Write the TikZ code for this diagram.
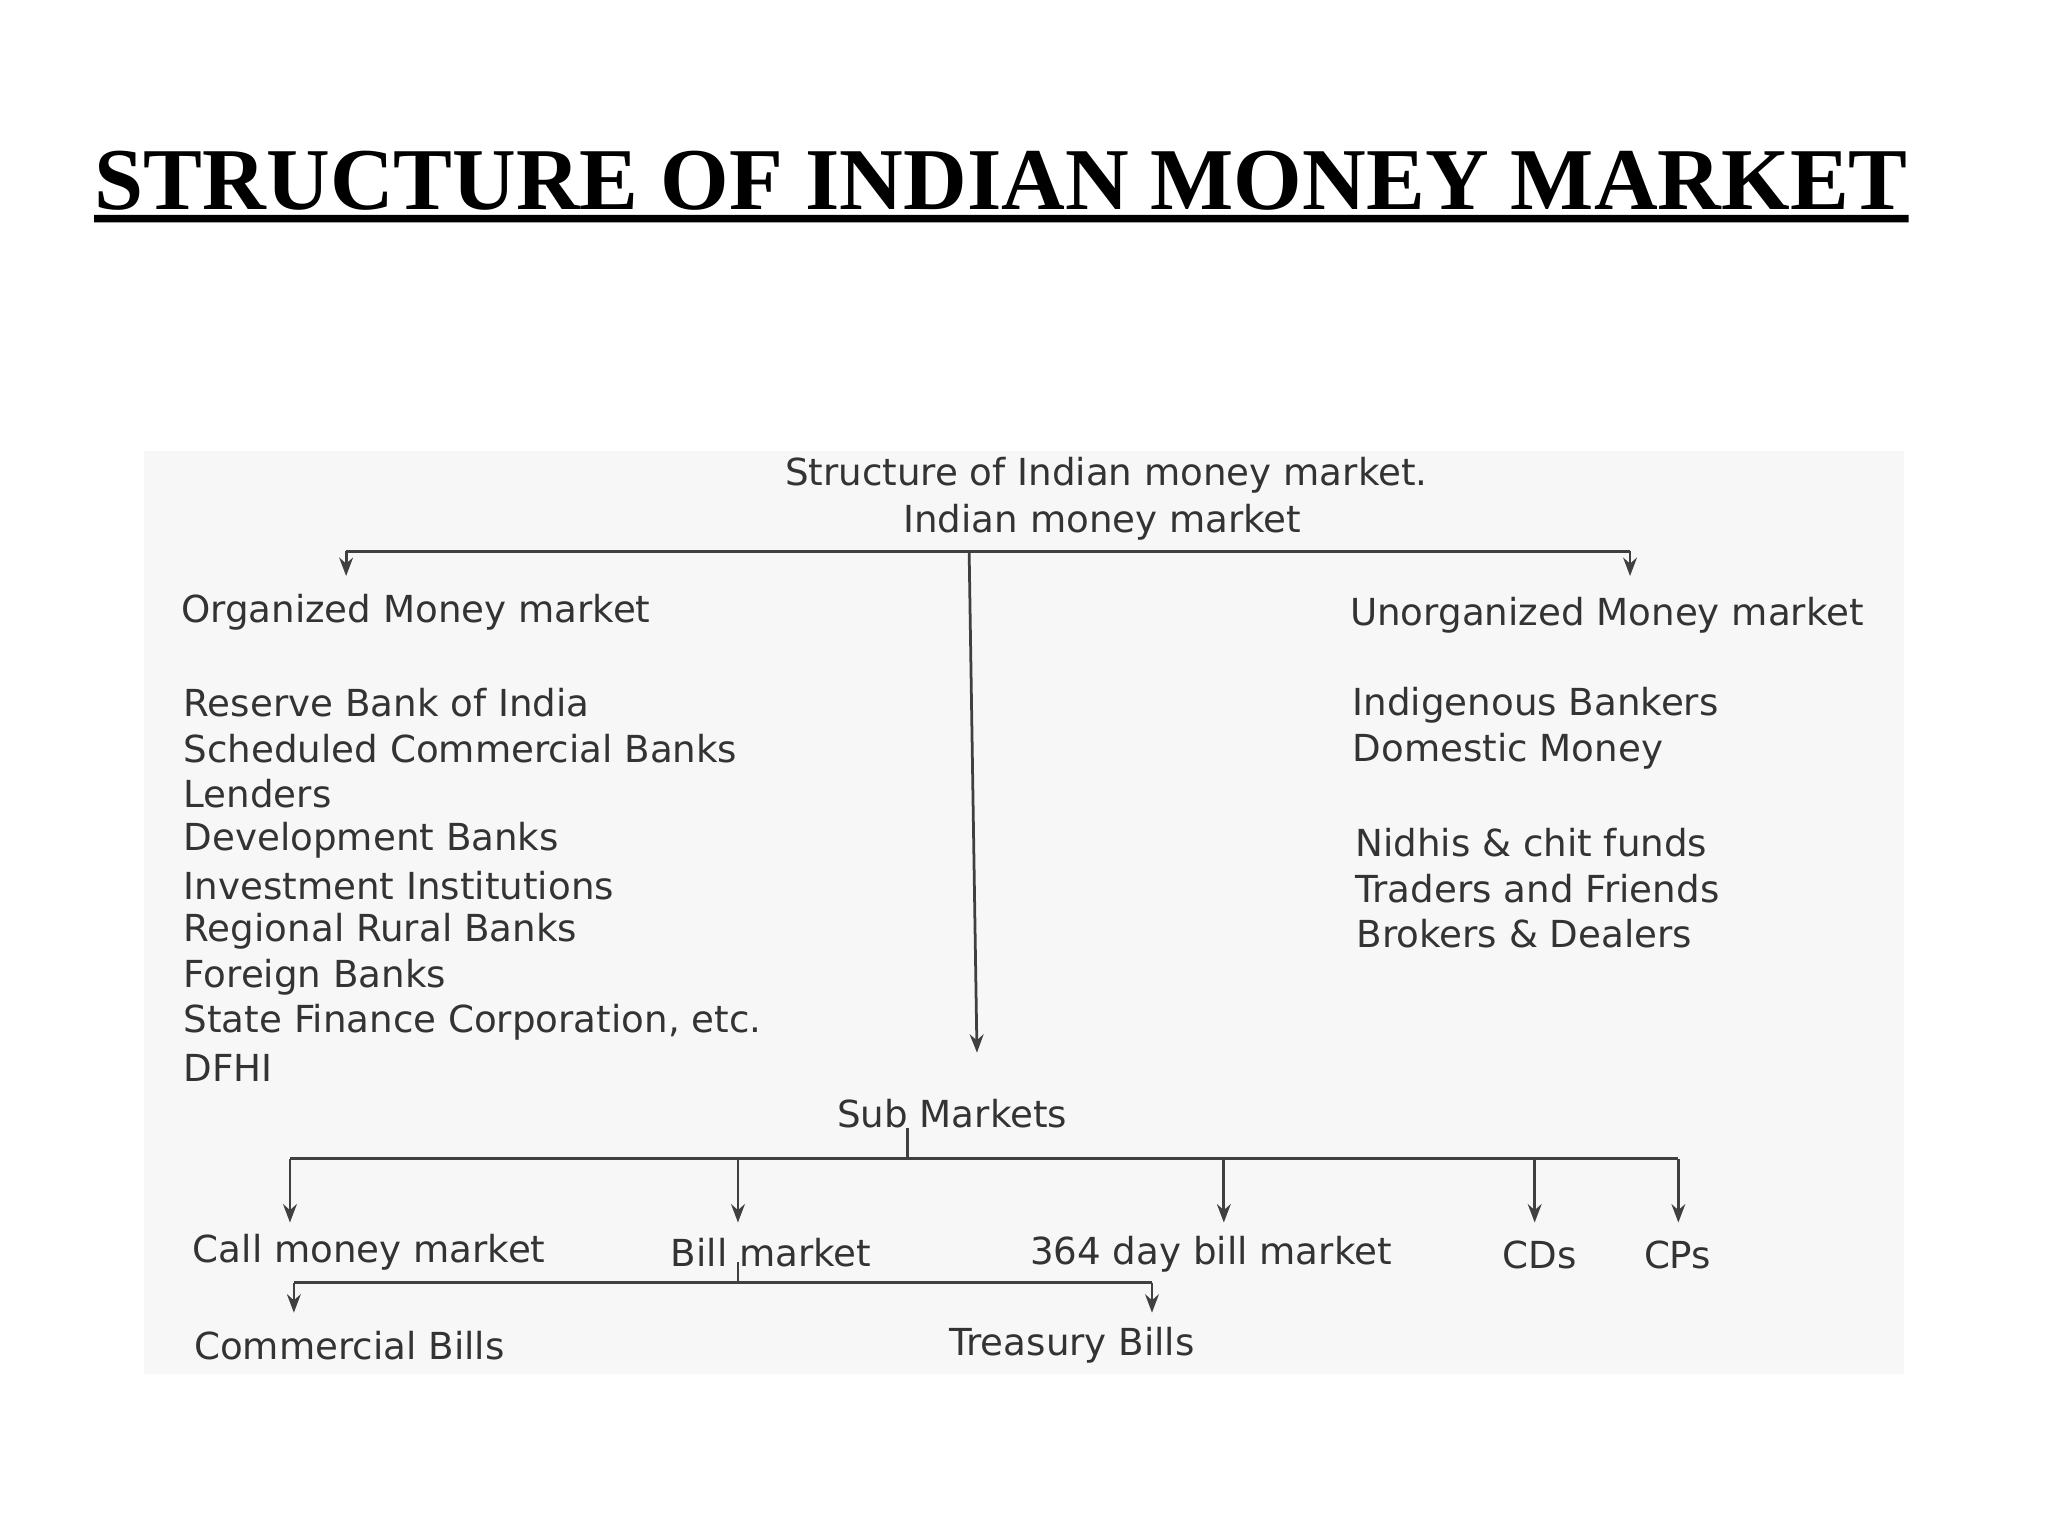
\documentclass[tikz,border=0pt]{standalone}
\usepackage{fontspec}
\setmainfont{DejaVu Sans}
\newfontfamily\titlefont{Liberation Serif}
\usetikzlibrary{arrows.meta}
\begin{document}
\begin{tikzpicture}[x=0.01cm,y=-0.01cm,
 txt/.style={anchor=west,inner sep=0pt,font=\fontsize{8.1}{10}\selectfont,text=black!80},
 ln/.style={draw=black!75,line width=0.6pt},
 ar/.style={ln,-{Stealth[length=4pt,width=3pt]}}]
\useasboundingbox (0,0) rectangle (1568,1176);
\fill[white] (0,0) rectangle (1568,1176);
\fill[black!3] (110,345) rectangle (1458,1052);
\node[anchor=west,inner sep=0pt,font=\titlefont\bfseries\fontsize{19.2}{22}\selectfont] (title) at (72,138) {STRUCTURE OF INDIAN MONEY MARKET};
\draw[line width=1.6pt] (title.south west)++(0,6) -- ([yshift=-0.06cm]title.south east);
\node[txt,anchor=center] (s) at (847,364) {Structure of Indian money market.};
\node[txt,anchor=center] (imm) at (844,400) {Indian money market};
\node[txt] (org) at (138,469) {Organized Money market};
\node[txt] (unorg) at (1033,471) {Unorganized Money market};
\foreach \t [count=\i] in {Reserve Bank of India,Scheduled Commercial Banks,Lenders,Development Banks,Investment Institutions,Regional Rural Banks,Foreign Banks,{State Finance Corporation, etc.},DFHI}
  \node[txt] (o\i) at (140,503+35*\i) {\t};
\node[txt] (u1) at (1035,540) {Indigenous Bankers};
\node[txt] (u2) at (1035,575) {Domestic Money};
\node[txt] (u3) at (1037,645) {Nidhis \& chit funds};
\node[txt] (u4) at (1037,680) {Traders and Friends};
\node[txt] (u5) at (1038,715) {Brokers \& Dealers};
\node[txt,anchor=center] (sub) at (729,853) {Sub Markets};
\node[txt] (call) at (147,959) {Call money market};
\node[txt] (bill) at (513,959) {Bill market};
\node[txt] (d364) at (788,960) {364 day bill market};
\node[txt] (cds) at (1150,961) {CDs};
\node[txt] (cps) at (1258,961) {CPs};
\node[txt] (cb) at (148,1030) {Commercial Bills};
\node[txt] (tb) at (726,1030) {Treasury Bills};
\coordinate (tl) at (265,422); \coordinate (tr) at (1248,422); \coordinate (tm) at (742,422);
\draw[ln] (tl) -- (tr);
\draw[ar] (tl) -- (265,441);
\draw[ar] (tr) -- (1248,441);
\draw[ar] (tm) -- (748,806);
\draw[ln] (695,864) -- (695,887);
\draw[ln] (222,887) -- (1285,887);
\foreach \x in {222,565,937,1175,1285} \draw[ar] (\x,887) -- (\x,936);
\draw[ln] (565,966) -- (565,982);
\draw[ln] (225,982) -- (882,982);
\draw[ar] (225,982) -- (225,1005);
\draw[ar] (882,982) -- (882,1005);
\end{tikzpicture}
\end{document}
